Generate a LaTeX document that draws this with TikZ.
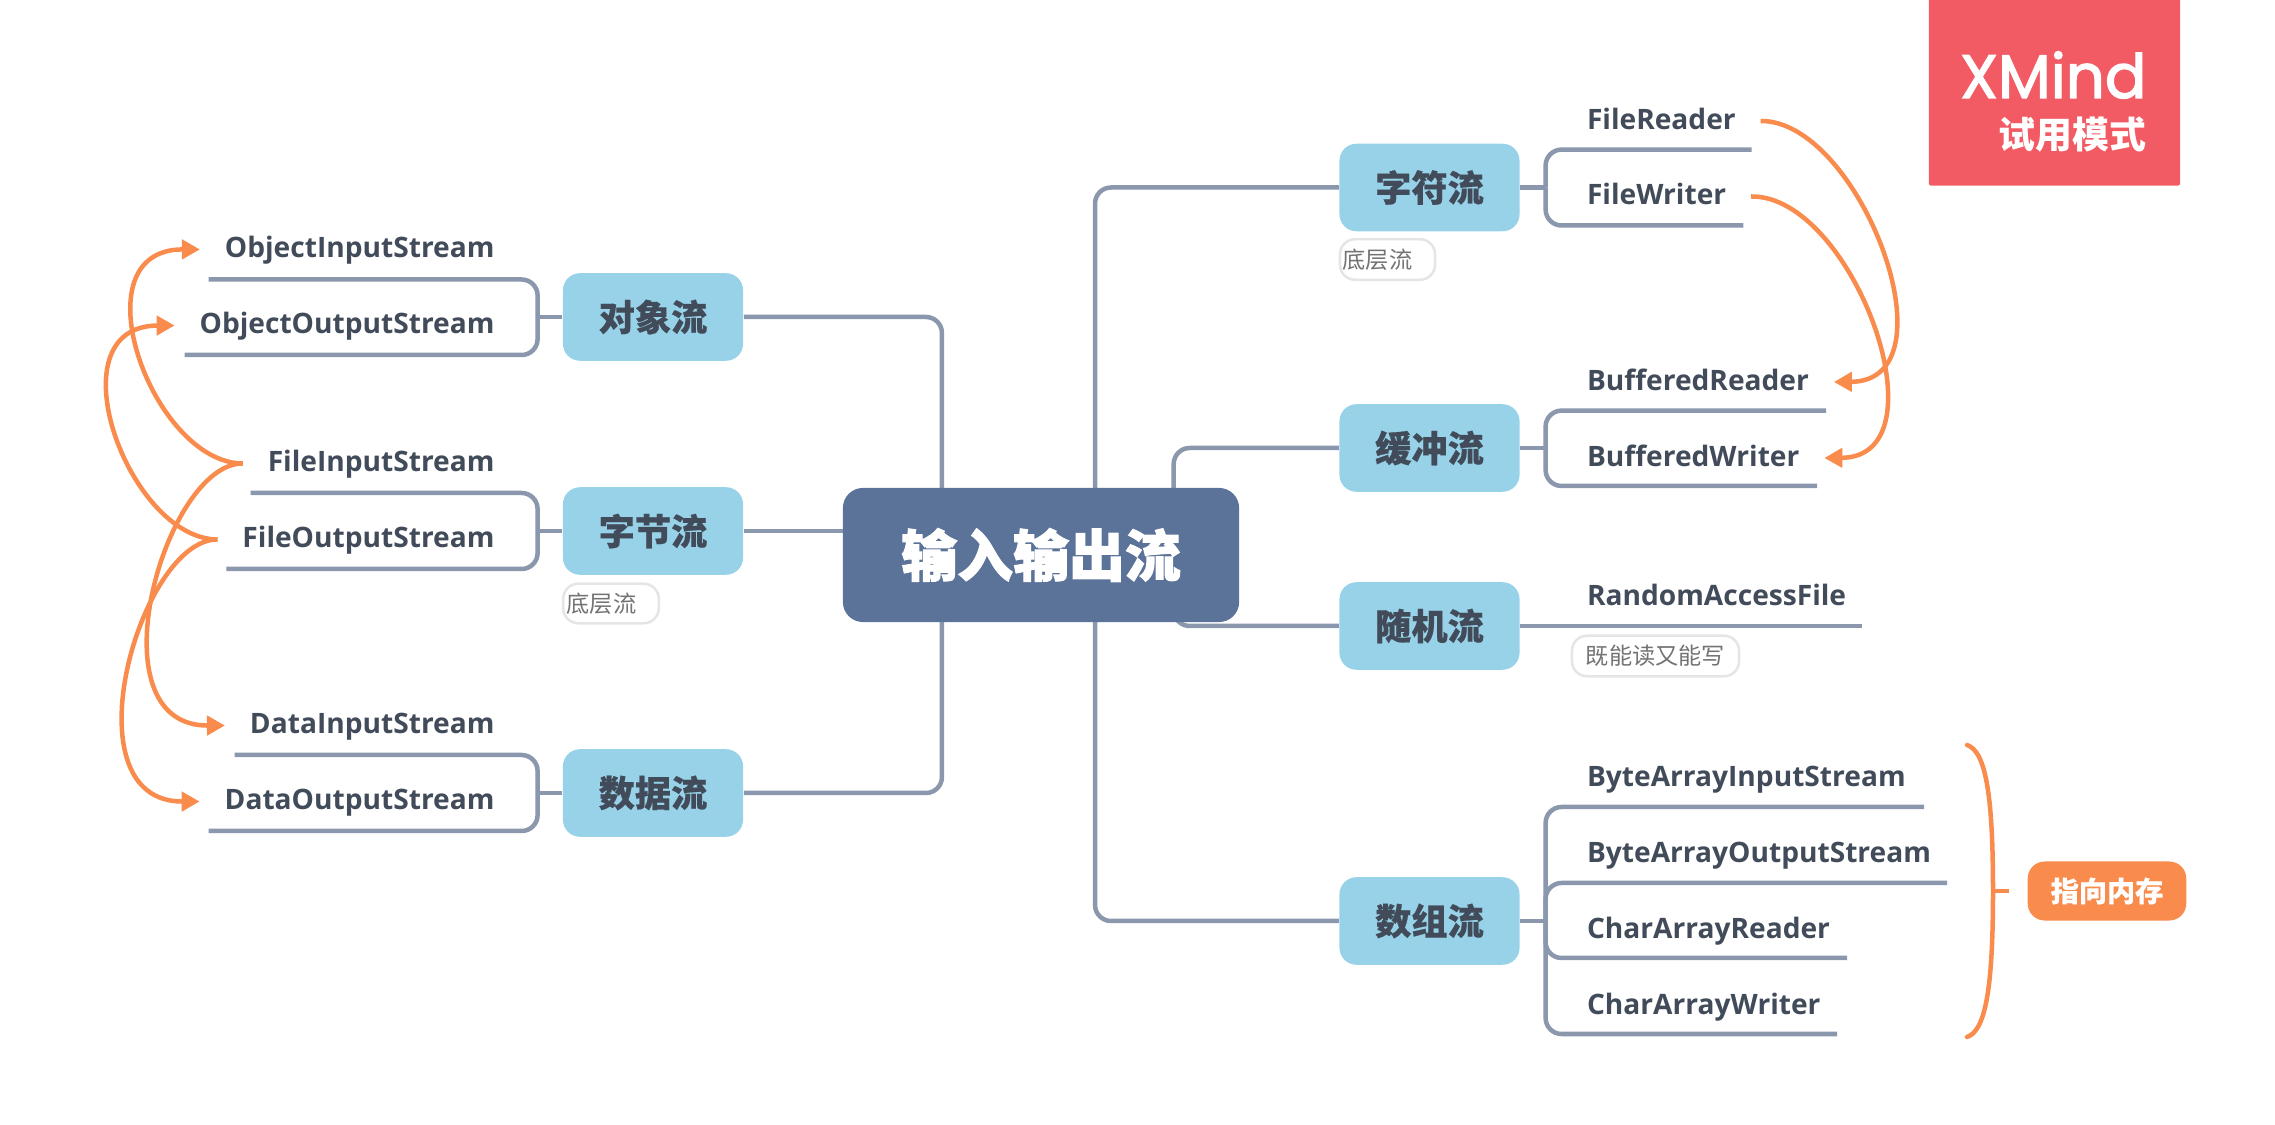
\documentclass[tikz,border=0pt]{standalone}
\usepackage{fontspec}
\setmainfont{Open Sans}
\newfontfamily\cjk{Noto Sans CJK SC}[BoldFeatures={FakeBold=0.4}]
\newfontfamily\cjkplain{Noto Sans CJK SC}
\newfontfamily\cjkroot{Noto Sans CJK SC}[BoldFeatures={FakeBold=1.8}]
\newfontfamily\xmfont{Poppins}[FakeBold=2.2]
\usetikzlibrary{arrows.meta,backgrounds}

\definecolor{rootblue}{HTML}{5B7299}
\definecolor{topicblue}{HTML}{97D2E8}
\definecolor{branchgrey}{HTML}{8A97AD}
\definecolor{inkgrey}{HTML}{414B59}
\definecolor{relorange}{HTML}{F98B4D}
\definecolor{markred}{HTML}{F25B64}

\tikzset{
  rootbox/.style={fill=rootblue, text=white, rounded corners=.2cm, minimum width=3.96cm, minimum height=1.34cm, font=\cjkroot\bfseries\fontsize{15.9}{18}\selectfont},
  topic/.style={fill=topicblue, text=inkgrey, rounded corners=.17cm, minimum width=1.8cm, minimum height=.875cm, font=\cjk\bfseries\fontsize{10.3}{12}\selectfont},
  leaf/.style={inner sep=0pt, outer xsep=.25cm, outer ysep=0pt, text height=.23cm, text depth=.06cm, text=inkgrey, font=\bfseries\fontsize{8}{10}\selectfont},
  notebox/.style={draw=black!10, line width=.025cm, fill=white, rounded corners=.15cm, inner sep=0pt, text=black!55, font=\cjk\fontsize{6.6}{8}\selectfont},
  branch/.style={draw=branchgrey, line width=.045cm, rounded corners=.16cm},
  rel/.style={draw=relorange, line width=.045cm, -{Triangle[length=.18cm,width=.19cm]}}
}

\begin{document}
\begin{tikzpicture}[x=.01cm, y=-.01cm]
\useasboundingbox (0,-1) rectangle (2275,1124);

\node[rootbox] (root) at (1041,554) {输入输出流};

\node[topic] (duixiang) at (653,316) {对象流};
\node[topic] (zijie) at (653,530) {字节流};
\node[topic] (shuju) at (653,792) {数据流};
\node[topic] (zifu) at (1429.5,186.5) {字符流};
\node[topic] (huanchong) at (1429.5,447) {缓冲流};
\node[topic] (suiji) at (1429.5,625) {随机流};
\node[topic] (shuzu) at (1429.5,920) {数组流};

\node[leaf,anchor=base east] (ois) at (519.5,257) {ObjectInputStream};
\node[leaf,anchor=base east] (oos) at (519.5,333) {ObjectOutputStream};
\node[leaf,anchor=base east] (fis) at (519.5,471) {FileInputStream};
\node[leaf,anchor=base east] (fos) at (519.5,547) {FileOutputStream};
\node[leaf,anchor=base east] (dis) at (519.5,733) {DataInputStream};
\node[leaf,anchor=base east] (dos) at (519.5,809) {DataOutputStream};

\node[leaf,anchor=base west] (fr) at (1562,128.5) {FileReader};
\node[leaf,anchor=base west] (fw) at (1562,204) {FileWriter};
\node[leaf,anchor=base west] (br) at (1562,389.5) {BufferedReader};
\node[leaf,anchor=base west] (bw) at (1562,465.5) {BufferedWriter};
\node[leaf,anchor=base west] (raf) at (1562,605) {RandomAccessFile};
\node[leaf,anchor=base west] (bais) at (1562,786) {ByteArrayInputStream};
\node[leaf,anchor=base west] (baos) at (1562,862) {ByteArrayOutputStream};
\node[leaf,anchor=base west] (car) at (1562,937.5) {CharArrayReader};
\node[leaf,anchor=base west] (caw) at (1562,1013.5) {CharArrayWriter};

\node[notebox,minimum width=.95cm,minimum height=.405cm] (note1) at (1387.5,258.5) {};
\node[inner sep=0pt,anchor=west,text=black!55,font=\cjk\fontsize{6.6}{8}\selectfont] (note1t) at (1342,258.5) {底层流};
\node[notebox,minimum width=.955cm,minimum height=.395cm] (note2) at (611,602.5) {};
\node[inner sep=0pt,anchor=west,text=black!55,font=\cjk\fontsize{6.6}{8}\selectfont] (note2t) at (566,602.5) {底层流};
\node[notebox,minimum width=1.67cm,minimum height=.405cm] (note3) at (1655.5,655) {既能读又能写};

\node[fill=markred, rounded corners=.02cm, minimum width=2.51cm, minimum height=1.87cm] (mark) at (2054.5,91) {};
\node[inner sep=0pt,anchor=base east,text=white,font=\xmfont\fontsize{17.4}{20}\selectfont] (markname) at (2147,97) {XMind};
\node[inner sep=0pt,anchor=east,text=white,font=\cjkplain\bfseries\fontsize{10.5}{12}\selectfont] (marktrial) at (2147,134) {试用模式};

\node[fill=relorange, text=white, rounded corners=.17cm, minimum width=1.585cm, minimum height=.59cm, font=\cjk\bfseries\fontsize{8}{10}\selectfont] (zhixiang) at (2107,890) {指向内存};

\begin{scope}[on background layer]
\draw[branch] (duixiang.east) -| ([xshift=-.99cm]root.center);
\draw[branch] (shuju.east) -| ([xshift=-.99cm]root.center);
\draw[branch] (zijie.east) -- (zijie.east -| root.center);
\draw[branch] (zifu.west) -| ([xshift=.54cm]root.center);
\draw[branch] (shuzu.west) -| ([xshift=.54cm]root.center);
\draw[branch] (huanchong.west) -| ([xshift=1.326cm]root.center);
\draw[branch] (suiji.west) -| ([xshift=1.326cm]root.center);
\end{scope}

\coordinate (duixiangT) at (537.6,316);
\coordinate (zijieT) at (537.6,530);
\coordinate (shujuT) at (537.6,792);
\coordinate (zifuT) at (1545.6,186.5);
\coordinate (huanchongT) at (1545.6,447);
\coordinate (shuzuT) at (1545.6,920);

\coordinate (oisE) at (208.6,278.5);
\coordinate (oosE) at (184.5,354);
\coordinate (fisE) at (250.5,492);
\coordinate (fosE) at (226.4,568);
\coordinate (disE) at (234.5,754);
\coordinate (dosE) at (208.6,830);
\coordinate (frE) at (1751.5,148.6);
\coordinate (fwE) at (1743.4,224.5);
\coordinate (brE) at (1826,409.6);
\coordinate (bwE) at (1817,485);
\coordinate (rafE) at (1861.5,625);
\coordinate (baisE) at (1924,806);
\coordinate (baosE) at (1947,882);
\coordinate (carE) at (1847,957);
\coordinate (cawE) at (1837,1033);

\draw[branch] (duixiang.west) -- (duixiangT);
\draw[branch] (duixiangT) |- (oisE);
\draw[branch] (duixiangT) |- (oosE);
\draw[branch] (zijie.west) -- (zijieT);
\draw[branch] (zijieT) |- (fisE);
\draw[branch] (zijieT) |- (fosE);
\draw[branch] (shuju.west) -- (shujuT);
\draw[branch] (shujuT) |- (disE);
\draw[branch] (shujuT) |- (dosE);
\draw[branch] (zifu.east) -- (zifuT);
\draw[branch] (zifuT) |- (frE);
\draw[branch] (zifuT) |- (fwE);
\draw[branch] (huanchong.east) -- (huanchongT);
\draw[branch] (huanchongT) |- (brE);
\draw[branch] (huanchongT) |- (bwE);
\draw[branch] (suiji.east) -- (rafE);
\draw[branch] (shuzu.east) -- (shuzuT);
\draw[branch] (shuzuT) |- (baisE);
\draw[branch] (shuzuT) |- (baosE);
\draw[branch] (shuzuT) |- (carE);
\draw[branch] (shuzuT) |- (cawE);

\draw[rel] (fr.east) .. controls (1860,119) and (1958,380) .. (br.east);
\draw[rel] (fw.east) .. controls (1853,194) and (1948,456) .. (bw.east);
\draw[rel] (fis.west) .. controls (152,462) and (75,248) .. (ois.west);
\draw[rel] (fos.west) .. controls (128,538) and (51,325) .. (oos.west);
\draw[rel] (fis.west) .. controls (165,462) and (90,725) .. (dis.west);
\draw[rel] (fos.west) .. controls (140,538) and (65,801) .. (dos.west);

\coordinate (braceA) at (1967,744);
\coordinate (braceM) at (1993,890);
\coordinate (braceB) at (1967,1036);
\draw[draw=relorange, line width=.045cm, line cap=round] (braceA) .. controls (1985,750) and (1993,790) .. (braceM) .. controls (1993,990) and (1985,1030) .. (braceB);
\draw[draw=relorange, line width=.045cm] (braceM) -- ([xshift=-.18cm]zhixiang.west);

\end{tikzpicture}
\end{document}
